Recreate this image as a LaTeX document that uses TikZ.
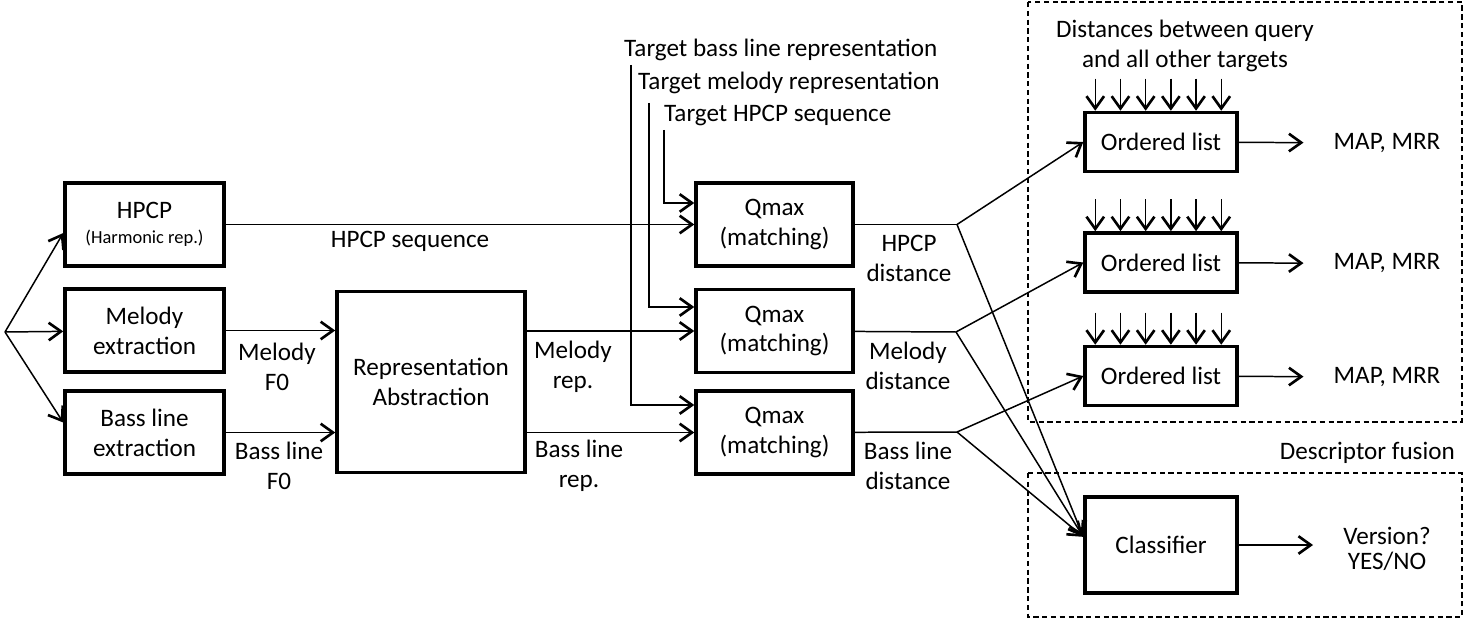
\documentclass[tikz,border=0pt]{standalone}
\usepackage{fontspec}
\setmainfont{Carlito}
\usepackage{tikz}
\usetikzlibrary{arrows.meta, positioning}
\newcommand{\diafont}{\fontsize{14.3}{17}\selectfont}
\newcommand{\subfont}{\fontsize{10.5}{12}\selectfont}

\begin{document}
\begin{tikzpicture}[
  font=\diafont,
  blk/.style={rectangle, draw=black, line width=2pt, fill=white, align=center,
    minimum width=3.18cm, minimum height=1.66cm},
  qbox/.style={blk, minimum width=3.14cm},
  olbox/.style={blk, minimum width=3.04cm, minimum height=1.18cm},
  lbl/.style={align=center},
  grp/.style={draw=black, line width=0.8pt, dash pattern=on 3pt off 2pt},
  arr/.style={-{Straight Barb[length=7pt,width=10pt,line width=1.5pt]}, line width=0.85pt},
  ln/.style={line width=0.85pt}
]
  \useasboundingbox (0,0) rectangle (29.34,-12.42);

  \draw[grp] (20.56,-0.04) rectangle (29.24,-8.44);
  \draw[grp] (20.56,-9.46) rectangle (29.24,-12.34);

  \coordinate (src) at (0.1,-6.64);
  \node[blk]  (hpcp) at (2.89,-4.49) {HPCP\\[-3pt]{\subfont (Harmonic rep.)}};
  \node[blk]  (mel)  at (2.89,-6.61) {Melody\\extraction};
  \node[blk]  (bass) at (2.89,-8.65) {Bass line\\extraction};
  \node[blk, minimum width=3.76cm, minimum height=3.62cm] (rep) at (8.62,-7.64) {Representation\\Abstraction};

  \node[qbox] (q1) at (15.49,-4.49) {Qmax\\(matching)};
  \node[qbox] (q2) at (15.49,-6.62) {Qmax\\(matching)};
  \node[qbox] (q3) at (15.49,-8.65) {Qmax\\(matching)};

  \node[anchor=west] (tbl)  at (12.36,-1.0)  {Target bass line representation};
  \node[anchor=west] (tmel) at (12.64,-1.66) {Target melody representation};
  \node[anchor=west] (thp)  at (13.16,-2.32) {Target HPCP sequence};
  \coordinate (tb) at (12.62,-1.3);
  \coordinate (tm) at (12.98,-2.06);
  \coordinate (th) at (13.28,-2.6);

  \coordinate (j1) at (19.14,-4.49);
  \coordinate (j2) at (19.12,-6.64);
  \coordinate (j3) at (19.14,-8.64);

  \node[olbox] (ol1) at (23.22,-2.84) {Ordered list};
  \node[olbox] (ol2) at (23.22,-5.25) {Ordered list};
  \node[olbox] (ol3) at (23.22,-7.52) {Ordered list};
  \node[blk, minimum width=3.04cm, minimum height=1.92cm] (cls) at (23.22,-10.9) {Classifier};

  \node[lbl] (dist) at (23.7,-0.92) {Distances between query\\and all other targets};
  \node (map1) at (27.74,-2.86) {MAP, MRR};
  \node (map2) at (27.74,-5.27) {MAP, MRR};
  \node (map3) at (27.74,-7.54) {MAP, MRR};
  \node[lbl] (ver) at (27.74,-10.98) {Version?\\[-3pt]YES/NO};
  \node[anchor=east] (fus) at (29.22,-9.06) {Descriptor fusion};

  \node[lbl] at (8.2,-4.82)   {HPCP sequence};
  \node[lbl] at (5.54,-7.34)  {Melody\\F0};
  \node[lbl] at (5.58,-9.32)  {Bass line\\F0};
  \node[lbl] at (11.46,-7.34) {Melody\\rep.};
  \node[lbl] at (11.58,-9.32) {Bass line\\rep.};
  \node[lbl] at (18.18,-5.17) {HPCP\\distance};
  \node[lbl] at (18.16,-7.32) {Melody\\distance};
  \node[lbl] at (18.16,-9.32) {Bass line\\distance};

  \draw[arr] (src) -- (hpcp.186);
  \draw[arr] (src) -- (mel);
  \draw[arr] (src) -- (bass.173);
  \draw[arr] (hpcp) -- (q1);
  \draw[arr] (mel) -- (mel -| rep.west);
  \draw[arr] (bass) -- (bass -| rep.west);
  \draw[arr] (rep.east |- q2) -- (q2);
  \draw[arr] (rep.east |- q3) -- (q3);
  \draw[arr] (tb) |- ([yshift=0.55cm]q3.west);
  \draw[arr] (tm) |- ([yshift=0.48cm]q2.west);
  \draw[arr] (th) |- ([yshift=0.43cm]q1.west);

  \draw[ln] (q1) -- (j1);
  \draw[ln] (q2) -- (j2);
  \draw[ln] (q3) -- (j3);
  \draw[arr] (j1) -- (ol1.west);
  \draw[arr] (j2) -- (ol2.west);
  \draw[arr] (j3) -- (ol3.west);
  \foreach \j in {j1,j2,j3}
    \draw[arr] (\j) -- (cls.174);

  \foreach \b/\m in {ol1/map1,ol2/map2,ol3/map3}{
    \foreach \i in {0,...,5}
      \draw[arr] ([xshift=0.24cm+\i*0.504cm, yshift=0.64cm]\b.north west) -- ([xshift=0.24cm+\i*0.504cm]\b.north west);
    \draw[arr, shorten >=0.48cm] (\b) -- (\m);
  }
  \draw[arr, shorten >=0.48cm] (cls) -- (cls -| ver.west);
\end{tikzpicture}
\end{document}
